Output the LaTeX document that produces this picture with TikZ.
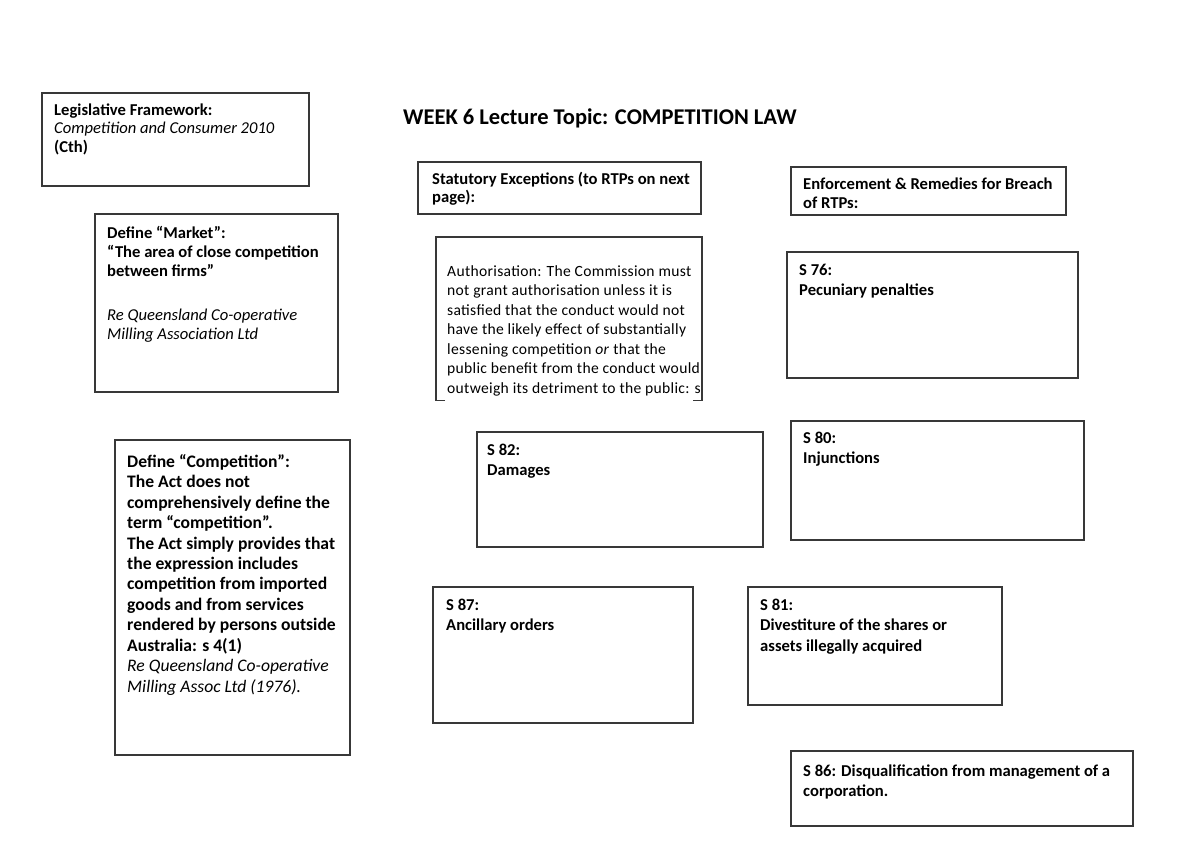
\documentclass[tikz,border=0pt]{standalone}
\usepackage{fontspec}
\setmainfont{Carlito}
\newcommand\fsb[2]{\fontsize{#1}{#2}\selectfont\bfseries}
\newcommand\fsr[2]{\fontsize{#1}{#2}\selectfont}
\begin{document}
\begin{tikzpicture}[x=1pt,y=-1pt,
  box/.style={draw=black!78, line width=1.1pt, rectangle, inner sep=0pt},
  txt/.style={anchor=north west, inner sep=0pt, align=left},
]
\fill[white] (0,0) rectangle (1200,848);
\useasboundingbox (0,0) rectangle (1200,848);

% title
\node[anchor=base west, inner sep=0pt, font=\fsb{22.5}{27}] (title) at (403,125) {WEEK 6 Lecture Topic: COMPETITION LAW};

% boxes
\node[box, minimum width=267, minimum height=93] (leg) at (175.5,139.5) {};
\node[box, minimum width=243, minimum height=178] (mkt) at (216.5,303) {};
\node[box, minimum width=235, minimum height=315] (cmp) at (232.5,597.5) {};
\node[box, minimum width=283, minimum height=52] (stat) at (559.5,188) {};
\node[box, minimum width=275, minimum height=48] (enf) at (928.5,191) {};
\node[box, minimum width=291, minimum height=126] (s76) at (932.5,315) {};
\node[box, minimum width=293, minimum height=119] (s80) at (937.5,480.5) {};
\node[box, minimum width=286, minimum height=115] (s82) at (620,489.5) {};
\node[box, minimum width=260, minimum height=136] (s87) at (563,655) {};
\node[box, minimum width=254, minimum height=118] (s81) at (875,646) {};
\node[box, minimum width=342, minimum height=75] (s86) at (962,788.5) {};

% authorisation box (open at the bottom)
\coordinate (aBL) at (436,400.5);
\coordinate (aTL) at (436,237);
\coordinate (aTR) at (702,237);
\coordinate (aBR) at (702,400.5);
\draw[draw=black!78, line width=1.1pt] ([xshift=9pt]aBL) -- (aBL) -- (aTL) -- (aTR) -- (aBR) -- ([xshift=-9pt]aBR);

% texts
\node[txt, font=\fsb{16.6}{18.6}] (legT) at (54,102) {\strut Legislative Framework:\\{\mdseries\itshape Competition and Consumer 2010}\\(Cth)};

\node[txt, font=\fsb{16.6}{19}] (mktT) at (107,224.7) {\strut Define “Market”:\\“The area of close competition\\between firms”};
\node[txt, font=\fsr{16.6}{19}\itshape] (mktR) at (107,306.7) {\strut Re Queensland Co-operative\\Milling Association Ltd};

\node[txt, font=\fsb{17.6}{20.45}] (cmpT) at (127,452.7) {\strut Define “Competition”:\\The Act does not\\comprehensively define the\\term “competition”.\\The Act simply provides that\\the expression includes\\competition from imported\\goods and from services\\rendered by persons outside\\Australia: s 4(1)\\{\mdseries\itshape Re Queensland Co-operative}\\{\mdseries\itshape Milling Assoc Ltd (1976).}};

\node[txt, font=\fsb{16.6}{18.5}] (statT) at (432,171) {\strut Statutory Exceptions (to RTPs on next\\page):};

\node[txt, font=\fsr{15.6}{19.5}\addfontfeature{LetterSpace=2}] (authT) at (447,262.4) {\strut Authorisation: The Commission must\\not grant authorisation unless it is\\satisfied that the conduct would not\\have the likely effect of substantially\\lessening competition \textit{or} that the\\public benefit from the conduct would\\outweigh its detriment to the public: s};

\node[txt, font=\fsb{16.6}{19}] (enfT) at (803,175.7) {\strut Enforcement \& Remedies for Breach\\of RTPs:};
\node[txt, font=\fsb{16.6}{20}] (s76T) at (799,261) {\strut S 76:\\Pecuniary penalties};
\node[txt, font=\fsb{16.6}{20.5}] (s80T) at (803,428.7) {\strut S 80:\\Injunctions};
\node[txt, font=\fsb{16.6}{20}] (s82T) at (487,441) {\strut S 82:\\Damages};
\node[txt, font=\fsb{16.6}{20.5}] (s87T) at (446,595.7) {\strut S 87:\\Ancillary orders};
\node[txt, font=\fsb{16.6}{20.5}] (s81T) at (760,595.7) {\strut S 81:\\Divestiture of the shares or\\assets illegally acquired};
\node[txt, font=\fsb{16.6}{20}] (s86T) at (803,762) {\strut S 86: Disqualification from management of a\\corporation.};
\end{tikzpicture}
\end{document}
